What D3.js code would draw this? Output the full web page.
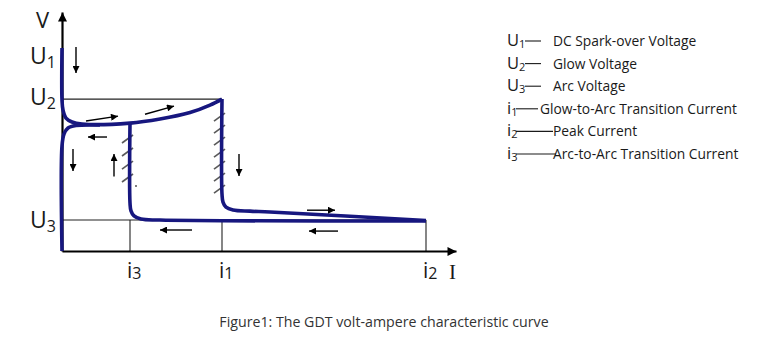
<!DOCTYPE html>
<html><head><meta charset="utf-8">
<script src="https://cdn.jsdelivr.net/npm/d3@7"></script>
<style>html,body{margin:0;padding:0;background:#fff;}svg{display:block;}</style>
</head><body>
<svg id="c" width="768" height="355"></svg>
<script>
// ---- data (abstract units: x = current, y = voltage) ----
const levelNames = ["U1", "U2", "U3"];
const levelValues = [84.6, 63.3, 12.9];
const currentNames = ["i3", "i1", "i2"];
const currentValues = [17, 40, 91];

// curve branches [current, voltage]
const glowBranch = [[0,84.6],[0,62.9],[0.25,58.75],[1,55.4],[2.5,53.75],[5,52.9],[17,53.3],[24.5,55],[32,57.7],[37,60.8],[40,63.3]];
const returnBranch = [[9.5,52.5],[3.5,52.3],[1.5,51.25],[0.5,48.75],[0,43.75],[0,0]];
const i3Branch = [[17,53.3],[17,20],[17.25,16.7],[18,14.6],[19.75,13.3],[24.5,12.9],[91,12.5]];
const i1Branch = [[40,63.3],[40,23.75],[40.25,20.4],[41,18.3],[42.75,17.1],[47,16.6],[52,16.25],[91,12.7]];

// direction arrows [x1,y1,x2,y2]
const arrows = [
  [3.5,85,3.5,74.2],
  [6,54.2,14,56.2],
  [20.75,57,28,60.4],
  [11.25,47.5,6.5,47.5],
  [2.75,42.5,2.75,33.3],
  [13,31,13,40.4],
  [44.25,40.4,44.25,31.25],
  [32.5,8.75,24.5,8.75],
  [61.25,17,68.25,17],
  [69,8.3,61.75,8.3]
];
// hatch positions (voltage) along the two transition lines
const hatchI3 = [46.7, 41.25, 35.8, 30.4];
const hatchI1 = [55.8, 50.8, 45.8, 40.8, 35.8, 30.8, 25.8];

const legendSym = ["U","U","U","i","i","i"];
const legendSub = ["1","2","3","1","2","3"];
const legendDesc = ["DC Spark-over Voltage","Glow Voltage","Arc Voltage","Glow-to-Arc Transition Current","Peak Current","Arc-to-Arc Transition Current"];
const caption = "Figure1: The GDT volt-ampere characteristic curve";

// ---- drawing ----
const svg = d3.select("#c");
const x = d3.scaleLinear().domain([0, 98.5]).range([62, 456]);
const y = d3.scaleLinear().domain([0, 99.6]).range([251, 12]);
const blue = "#17177f";
const font = "'Open Sans', sans-serif";
const ink = "#1a1a1a";

const defs = svg.append("defs");
defs.append("marker").attr("id","axArrow").attr("markerUnits","userSpaceOnUse")
  .attr("viewBox","0 0 10 10").attr("refX",10).attr("refY",5)
  .attr("markerWidth",10).attr("markerHeight",9).attr("orient","auto")
  .append("path").attr("d","M0,0L10,5L0,10Z").attr("fill","#000");
defs.append("marker").attr("id","smArrow").attr("markerUnits","userSpaceOnUse")
  .attr("viewBox","0 0 10 10").attr("refX",10).attr("refY",5)
  .attr("markerWidth",8).attr("markerHeight",7).attr("orient","auto")
  .append("path").attr("d","M0,0L10,5L0,10Z").attr("fill","#000");

// reference thin lines
const g = svg.append("g");
g.append("line").attr("x1",x(0)).attr("x2",x(currentValues[1])).attr("y1",y(levelValues[1])).attr("y2",y(levelValues[1]))
  .attr("stroke","#222").attr("stroke-width",1.1);
g.append("line").attr("x1",x(0)).attr("x2",x(currentValues[2])).attr("y1",y(levelValues[2])).attr("y2",y(levelValues[2]))
  .attr("stroke","#222").attr("stroke-width",1.1);
currentValues.forEach(v => {
  g.append("line").attr("x1",x(v)).attr("x2",x(v)).attr("y1",y(levelValues[2])).attr("y2",y(0))
   .attr("stroke","#222").attr("stroke-width",1.1);
});

// axes
const yAxis = svg.append("g").attr("transform",`translate(${x(0)},0)`)
  .call(d3.axisLeft(y).tickValues(levelValues).tickSize(0).tickSizeOuter(0).tickFormat(""));
const xAxis = svg.append("g").attr("transform",`translate(0,${y(0)})`)
  .call(d3.axisBottom(x).tickValues(currentValues).tickSize(0).tickSizeOuter(0).tickFormat(""));
[yAxis, xAxis].forEach(a => a.select(".domain").attr("stroke","#000").attr("stroke-width",2.2).attr("marker-end","url(#axArrow)"));

// hatches
const hatch = svg.append("g").attr("stroke","#5a5a5a").attr("stroke-width",1.7);
function drawHatch(cx, list){
  list.forEach(v => {
    const px = x(cx), py = y(v);
    hatch.append("line").attr("x1",px-8).attr("y1",py+4).attr("x2",px+3).attr("y2",py-4);
  });
}
drawHatch(currentValues[0], hatchI3);
drawHatch(currentValues[1], hatchI1);
svg.append("circle").attr("cx",x(currentValues[0])+6).attr("cy",y(hatchI3[hatchI3.length-1])+8).attr("r",1).attr("fill","#555");

// curves
const line = d3.line().x(d => x(d[0])).y(d => y(d[1])).curve(d3.curveCatmullRom.alpha(0.5));
[glowBranch, returnBranch, i3Branch, i1Branch].forEach(b => {
  svg.append("path").attr("d", line(b)).attr("fill","none").attr("stroke",blue)
    .attr("stroke-width",3.6).attr("stroke-linejoin","round").attr("stroke-linecap","butt");
});

// small arrows
svg.append("g").selectAll("line").data(arrows).join("line")
  .attr("x1",d=>x(d[0])).attr("y1",d=>y(d[1])).attr("x2",d=>x(d[2])).attr("y2",d=>y(d[3]))
  .attr("stroke","#000").attr("stroke-width",1.4).attr("marker-end","url(#smArrow)");

// axis labels
svg.append("text").attr("x",36).attr("y",28).attr("font-family",font).attr("font-size",22).attr("fill",ink).text("V");
const levelLabelOffset = [16, 6, 8];
levelNames.forEach((n,i) => {
  const t = svg.append("text").attr("x",x(0)-6).attr("y",y(levelValues[i])+levelLabelOffset[i])
    .attr("text-anchor","end").attr("font-family",font).attr("font-size",23).attr("fill",ink);
  t.append("tspan").text(n[0]);
  t.append("tspan").attr("font-size",16).attr("dy",4).text(n.slice(1));
});
currentNames.forEach((n,i) => {
  const t = svg.append("text").attr("x",x(currentValues[i])-3).attr("y",278)
    .attr("font-family",font).attr("font-size",21).attr("fill",ink);
  t.append("tspan").text(n[0]);
  t.append("tspan").attr("font-size",16).attr("dy",1).text(n.slice(1));
});
svg.append("text").attr("x",449).attr("y",279).attr("font-family","'Liberation Serif', serif").attr("font-size",21).attr("fill",ink).text("I");

// legend
const dashEnd = [541,541,541,538,553,556];
const descX = [553,553,553,540,553,553];
legendDesc.forEach((d,i) => {
  const by = 46 + i*22.6;
  const t = svg.append("text").attr("x",507).attr("y",by).attr("font-family",font).attr("font-size",16.5).attr("fill",ink);
  t.append("tspan").text(legendSym[i]);
  t.append("tspan").attr("font-size",11).attr("dy",2).text(legendSub[i]);
  svg.append("line").attr("x1", legendSym[i]==="U"?525:516).attr("x2",dashEnd[i]).attr("y1",by-5).attr("y2",by-5)
    .attr("stroke",ink).attr("stroke-width",1.1);
  svg.append("text").attr("x",descX[i]).attr("y",by).attr("font-family",font).attr("font-size",13.8).attr("fill",ink).text(d);
});

svg.append("text").attr("x",384).attr("y",327).attr("text-anchor","middle").attr("font-family",font)
  .attr("font-size",14.2).attr("fill","#333").text(caption);
</script>
</body></html>
